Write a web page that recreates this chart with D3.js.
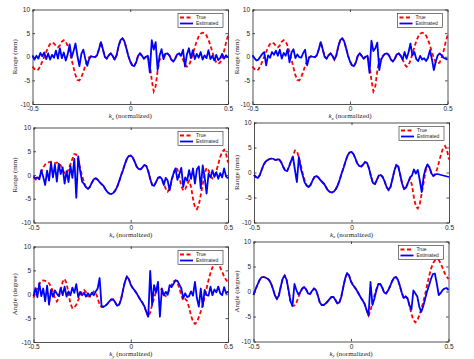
<!DOCTYPE html>
<html><head><meta charset="utf-8">
<script src="https://cdn.jsdelivr.net/npm/d3@7"></script>
<style>body{margin:0;background:#fff}svg{display:block}</style>
</head><body><svg id="c" width="474" height="359"></svg>
<script>
// ---- data ----
const kGrid = d3.range(101).map(i => +(-0.5 + i * 0.01).toFixed(2));
const xTicks = [-0.5, 0, 0.5];
const xTickLabels = ["-0.5", "0", "0.5"];
const yTicks = [-10, -5, 0, 5, 10];
const yTickLabels = ["-10", "-5", "0", "5", "10"];
const legendLabels = ["True", "Estimated"];
const yLabels = ["Range (mm)", "Angle (degree)"];
const xSubs = ["x", "y"];

const trueRangeA = [
 -2.1,-2.6,-2.9,-2.7,-2.0,-1.0,0.0,1.0,2.0,2.7,
 3.0,2.8,2.3,2.0,2.4,3.2,3.5,3.2,2.3,1.0,
 -0.6,-2.3,-3.9,-4.9,-5.0,-4.3,-3.2,-1.9,-0.8,-0.1,
 0.1,0.0,-0.1,0.3,1.6,3.1,1.6,0.0,-0.4,0.3,
 0.7,0.2,-0.6,0.3,2.2,3.5,3.9,3.3,1.8,0.2,
 -1.0,-1.8,-2.0,-1.2,0.2,0.7,0.2,-0.4,0.0,0.2,
 -1.5,-5.0,-7.3,-6.2,-3.0,-0.6,-0.2,0.3,0.6,0.7,
 0.3,-0.6,-1.0,-0.4,0.5,0.7,0.2,-0.6,-1.6,-2.1,
 -1.8,-0.8,0.6,2.0,3.3,4.3,4.9,5.1,5.0,4.5,
 3.6,2.4,1.0,-0.3,-1.2,-1.5,-1.2,-0.2,1.2,3.0,
 4.5];
const estRangeA1 = [
 0.3,-0.6,0.2,-0.4,0.8,0.1,0.9,-0.5,0.7,-0.6,
 0.4,-0.2,1.3,-0.4,1.8,-0.3,0.9,-0.8,0.5,2.6,
 -0.2,1.2,2.8,0.1,-2.0,0.6,1.5,-0.4,-1.9,-0.5,
 0.1,0.0,-0.1,0.3,1.6,3.1,1.6,0.0,-0.4,0.3,
 0.7,0.2,-0.6,0.3,2.2,3.5,3.9,3.3,1.8,0.2,
 -1.0,-1.8,-2.0,-1.2,0.2,0.7,0.2,-0.4,0.0,0.2,
 -3.3,3.5,1.5,3.1,-2.8,0.2,1.6,-0.5,0.6,0.7,
 0.3,-0.6,-1.0,-0.4,0.5,0.7,0.2,1.5,-2.1,0.5,
 1.8,-0.3,1.4,-0.5,0.6,-0.2,1.0,-0.6,0.3,-0.3,
 1.4,-0.5,0.2,-0.8,0.4,-0.7,-0.3,0.6,-0.4,0.3,
 -0.2];
const estRangeA2 = [
 0.3,-0.3,-0.8,-0.6,0.0,0.6,1.0,-1.8,0.3,-0.2,
 1.0,0.4,1.3,0.2,1.5,-0.4,0.8,0.2,1.6,-1.2,
 0.9,1.6,-0.3,0.5,-0.1,-0.2,0.8,1.5,-1.8,-0.2,
 0.1,0.0,-0.1,0.3,1.6,3.1,1.6,0.0,-0.4,0.3,
 0.7,0.2,-0.6,0.3,2.2,3.5,3.9,3.3,1.8,0.2,
 -1.0,-1.8,-2.0,-1.2,0.2,0.7,0.2,-0.4,0.0,0.2,
 -3.4,3.4,1.2,1.8,3.0,-2.8,-0.6,0.2,0.6,0.7,
 0.3,-0.6,-1.0,-0.4,0.5,0.7,0.2,-0.6,1.0,-0.4,
 0.9,2.8,0.3,1.0,-0.5,-0.9,0.2,-0.6,-0.3,-0.9,
 -0.2,1.4,-0.5,-2.8,-1.0,0.3,0.7,0.3,-0.2,-0.4,
 -0.6];

const trueRangeB = [
 -0.5,-0.9,-1.1,-0.5,0.6,1.6,2.2,2.5,2.7,2.8,
 2.7,2.5,2.6,2.6,2.0,1.1,0.4,0.3,1.2,2.3,
 3.4,4.4,4.3,3.0,1.5,-0.2,-1.6,-2.6,-2.9,-2.5,
 -1.6,-0.9,-0.7,-1.0,-1.5,-1.9,-2.3,-3.0,-3.6,-3.9,
 -4.0,-3.8,-3.3,-2.5,-1.4,-0.1,1.0,2.3,3.4,4.0,
 4.1,3.7,2.8,1.8,1.3,1.2,1.6,2.1,1.9,0.8,
 -0.8,-2.1,-2.3,-1.5,-0.6,-0.5,-0.9,-1.8,-2.9,-3.5,
 -2.9,-1.3,0.4,1.5,1.2,-0.5,-2.3,-3.3,-3.0,-2.0,
 -1.2,-2.5,-5.0,-6.8,-7.2,-6.3,-4.2,-2.0,0.3,1.5,
 1.0,-0.2,-0.7,-0.3,0.8,2.3,3.8,4.9,5.3,4.4,
 2.6];
const estRangeB3 = [
 -0.3,-0.7,-0.5,-0.9,1.0,-0.4,-2.1,0.9,-1.2,2.6,
 -0.5,2.2,-1.4,2.4,0.2,1.6,-1.8,0.8,-1.5,1.9,
 -0.6,3.4,-4.8,3.9,0.8,-1.4,-1.9,-2.6,-2.9,-2.5,
 -1.6,-0.9,-0.7,-1.0,-1.5,-1.9,-2.3,-3.0,-3.6,-3.9,
 -4.0,-3.8,-3.3,-2.5,-1.4,-0.1,1.0,2.3,3.4,4.0,
 4.1,3.7,2.8,1.8,1.3,1.2,1.6,2.1,1.9,0.8,
 -0.8,-2.1,-2.3,-1.5,-0.6,-0.4,-0.8,-2.1,-0.6,-1.2,
 -3.2,-1.0,0.3,1.4,-1.0,0.2,1.5,-2.5,-0.5,-1.2,
 1.0,-0.8,1.4,-1.8,1.2,1.8,-2.8,2.0,-0.5,-3.9,
 0.3,-0.5,1.0,-0.4,0.6,-0.8,0.4,-0.5,1.4,-0.3,
 -0.7];
const estRangeB4 = [
 -0.5,-0.9,-1.1,-0.5,0.6,1.6,2.2,2.5,2.7,2.8,
 2.7,2.5,2.6,2.6,2.0,1.1,0.4,0.3,1.2,2.3,
 3.1,0.5,-1.9,3.1,0.8,-0.6,-2.0,-2.6,-2.9,-2.5,
 -1.6,-0.9,-0.7,-1.0,-1.5,-1.9,-2.3,-3.0,-3.6,-3.9,
 -4.0,-3.8,-3.3,-2.5,-1.4,-0.1,1.0,2.3,3.4,4.0,
 4.1,3.7,2.8,1.8,1.3,1.2,1.6,2.1,1.9,0.8,
 -0.8,-2.1,-2.3,-1.5,-0.6,-0.5,-0.9,-1.8,-2.9,-3.5,
 -2.9,-1.3,0.4,1.5,1.2,-0.5,-2.3,-3.3,-3.0,-2.0,
 -1.0,-0.6,0.6,-0.2,0.5,-1.5,-3.9,-0.8,0.8,1.6,
 1.0,-0.2,-0.7,-0.4,-0.3,-0.4,-0.5,-0.6,-0.7,-0.8,
 -0.9];

const trueAngleC = [
 -0.7,0.4,1.3,2.2,2.8,2.9,2.8,2.6,2.3,1.6,
 0.5,-0.8,-1.5,-0.8,1.0,2.6,3.2,2.3,0.2,-2.0,
 -2.9,-2.8,-2.2,-1.2,-0.2,0.6,0.9,0.4,-0.4,-0.5,
 0.1,0.6,0.3,-0.8,-2.2,-2.7,-2.7,-2.4,-2.0,-1.5,
 -1.1,-1.1,-1.7,-2.4,-2.2,-1.1,0.8,2.6,3.7,3.2,
 2.0,1.3,0.8,0.2,-0.5,-1.2,-1.8,-2.5,-3.7,-4.8,
 -3.8,-2.2,-0.8,0.5,1.4,1.5,0.8,-0.2,-0.4,0.2,
 1.0,2.0,2.7,2.9,2.4,1.2,-0.2,-1.3,-1.0,-1.4,
 -2.8,-4.5,-5.7,-6.2,-5.8,-4.8,-3.6,-2.2,-0.6,1.2,
 3.0,4.5,5.6,6.2,6.4,6.3,5.6,4.7,3.7,3.0,
 2.5];
const estAngleC5 = [
 -0.4,1.3,-0.6,2.3,-0.4,1.2,-1.5,1.8,-2.2,0.9,
 -0.5,0.8,0.1,-0.4,1.3,-0.2,1.6,-0.5,0.6,-0.2,
 1.4,0.3,2.1,-0.6,0.5,-0.2,0.3,-0.5,0.2,-0.4,
 0.3,-0.2,0.6,1.2,3.4,-2.5,-2.6,-2.4,-2.0,-1.5,
 -1.1,-1.1,-1.7,-2.4,-2.2,-1.1,0.8,2.6,3.7,3.2,
 2.0,1.3,0.8,0.2,-0.5,-1.2,-1.8,-2.5,-3.7,-4.7,
 4.9,-2.2,1.9,0.4,2.6,-4.7,1.2,-0.2,0.5,-0.1,
 1.9,1.5,2.2,2.9,2.8,2.0,1.2,-0.8,0.2,-0.6,
 -0.4,0.6,-0.3,2.6,-0.8,-2.6,1.2,-2.6,0.9,-0.2,
 -0.3,1.6,-0.2,1.0,0.4,1.6,0.2,-0.2,1.5,0.2,
 0.6];
const estAngleC6 = [
 -0.7,0.4,1.3,2.2,2.8,2.9,2.8,2.6,2.3,1.6,
 0.5,-0.8,-1.5,-0.8,1.0,2.6,3.2,2.3,0.2,-2.0,
 -2.9,1.5,0.3,-0.6,-0.1,0.6,0.9,0.4,-0.4,-0.5,
 0.1,0.6,0.3,-0.8,-2.2,-2.7,-2.7,-2.4,-2.0,-1.5,
 -1.1,-1.1,-1.7,-2.4,-2.2,-1.1,0.8,2.6,3.7,3.2,
 2.0,1.3,0.8,0.2,-0.5,-1.2,-1.8,-2.5,-3.7,-4.8,
 1.9,-2.7,-1.4,0.2,1.5,1.5,0.8,-0.2,-0.4,0.2,
 1.0,2.0,2.7,2.9,2.4,1.2,-0.2,-1.3,-1.0,-1.4,
 -2.8,-3.6,0.2,-0.4,-1.0,-3.0,-4.1,-3.0,-1.5,0.0,
 1.2,2.5,3.5,3.6,1.6,-0.7,-0.3,0.3,0.6,0.7,
 0.3];

// ---- layout ----
const panels = [
  {truth: trueRangeA, est: estRangeA1, yl: 0, xs: 0, box: [32.5, 228, 9.5, 104], ylx: 15},
  {truth: trueRangeA, est: estRangeA2, yl: 0, xs: 0, box: [252.5, 447.5, 9.5, 104], ylx: 237},
  {truth: trueRangeB, est: estRangeB3, yl: 0, xs: 0, box: [33.5, 228, 127.5, 222.5], ylx: 15},
  {truth: trueRangeB, est: estRangeB4, yl: 0, xs: 0, box: [254, 449, 122.5, 222.5], ylx: 237},
  {truth: trueAngleC, est: estAngleC5, yl: 1, xs: 1, box: [33.5, 228, 246.5, 342], ylx: 15},
  {truth: trueAngleC, est: estAngleC6, yl: 1, xs: 1, box: [253.5, 448.5, 241.5, 341.5], ylx: 237}
];

const svg = d3.select("#c");
const axisColor = "#262626";
const redC = "#ff0000", blueC = "#0000ff";

panels.forEach(p => {
  const [x0, x1, y0, y1] = p.box;
  const x = d3.scaleLinear().domain([-0.5, 0.5]).range([x0, x1]);
  const y = d3.scaleLinear().domain([-10, 10]).range([y1, y0]);
  const g = svg.append("g");

  const styleAxis = sel => {
    sel.selectAll("path,line").attr("stroke", axisColor).attr("stroke-width", 0.8);
    sel.selectAll("text").attr("fill", axisColor).style("font-family", "'Liberation Sans', Arial, sans-serif").style("font-size", "6.5px");
  };
  g.append("g").attr("transform", `translate(0,${y1})`)
    .call(d3.axisBottom(x).tickValues(xTicks).tickFormat((d, i) => xTickLabels[i]).tickSizeInner(-2.5).tickSizeOuter(0).tickPadding(2.5))
    .call(styleAxis);
  g.append("g").attr("transform", `translate(0,${y0})`)
    .call(d3.axisTop(x).tickValues(xTicks).tickFormat("").tickSizeInner(-2.5).tickSizeOuter(0))
    .call(styleAxis);
  g.append("g").attr("transform", `translate(${x0},0)`)
    .call(d3.axisLeft(y).tickValues(yTicks).tickFormat((d, i) => yTickLabels[i]).tickSizeInner(-2.5).tickSizeOuter(0).tickPadding(2.5))
    .call(styleAxis);
  g.append("g").attr("transform", `translate(${x1},0)`)
    .call(d3.axisRight(y).tickValues(yTicks).tickFormat("").tickSizeInner(-2.5).tickSizeOuter(0))
    .call(styleAxis);

  const line = d3.line().x((d, i) => x(kGrid[i])).y(d => y(d));
  g.append("path").datum(p.truth).attr("d", line).attr("fill", "none")
    .attr("stroke", redC).attr("stroke-width", 1.8).attr("stroke-dasharray", "4,2.5");
  g.append("path").datum(p.est).attr("d", line).attr("fill", "none")
    .attr("stroke", blueC).attr("stroke-width", 1.8).attr("stroke-linejoin", "round");

  // legend
  const lg = g.append("g").attr("transform", `translate(${x1 - 50},${y0 + 4})`);
  lg.append("rect").attr("width", 45).attr("height", 14).attr("fill", "#fff")
    .attr("stroke", axisColor).attr("stroke-width", 0.6);
  [[redC, "4,2.5"], [blueC, null]].forEach((s, i) => {
    const yy = 4 + i * 6;
    const ln = lg.append("line").attr("x1", 2).attr("x2", 15).attr("y1", yy).attr("y2", yy)
      .attr("stroke", s[0]).attr("stroke-width", 1.8);
    if (s[1]) ln.attr("stroke-dasharray", s[1]);
    lg.append("text").attr("x", 18).attr("y", yy).attr("dy", "0.35em")
      .style("font-family", "'Liberation Sans', Arial, sans-serif").style("font-size", "5px")
      .attr("fill", axisColor).text(legendLabels[i]);
  });

  // y label
  g.append("text").attr("transform", `translate(${p.ylx},${(y0 + y1) / 2}) rotate(-90)`)
    .attr("text-anchor", "middle").attr("dy", "0.35em")
    .style("font-family", "'Liberation Serif', 'DejaVu Serif', serif").style("font-size", "7px")
    .attr("fill", axisColor).text(yLabels[p.yl]);

  // x label
  const xl = g.append("text").attr("x", (x0 + x1) / 2).attr("y", y1 + 12).attr("dy", "0.35em")
    .attr("text-anchor", "middle")
    .style("font-family", "'Liberation Serif', 'DejaVu Serif', serif").style("font-size", "7px")
    .attr("fill", axisColor);
  xl.append("tspan").style("font-style", "italic").text("k");
  xl.append("tspan").attr("dy", "1.5").style("font-size", "5px").style("font-style", "italic").text(xSubs[p.xs]);
  xl.append("tspan").attr("dy", "-1.5").text(" (normalized)");
});
</script>
</body></html>
